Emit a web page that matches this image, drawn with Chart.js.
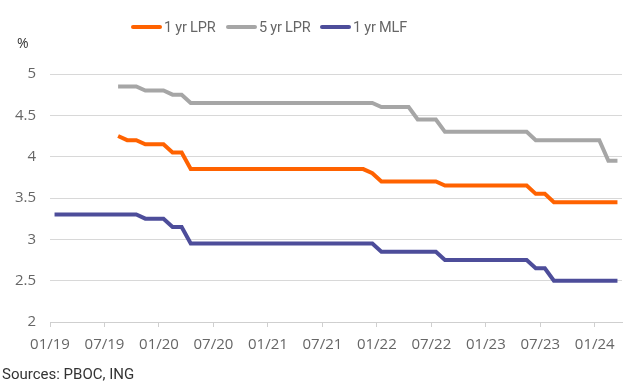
<!DOCTYPE html>
<html>
<head>
<meta charset="utf-8">
<script src="https://cdn.jsdelivr.net/npm/chart.js@4.4.1/dist/chart.umd.min.js"></script>
<style>
  html, body { margin: 0; padding: 0; background: #fff; }
  #wrap { position: relative; width: 640px; height: 384px; font-family: "Open Sans", sans-serif; }
  #legend span.item { position: absolute; top: 19px; white-space: nowrap; font-family: Roboto, sans-serif; font-size: 14.5px; letter-spacing: -0.2px; color: #666; }
  #legend span.sw { display: inline-block; width: 31px; height: 4px; border-radius: 2px; vertical-align: middle; margin-right: 2px; position: relative; top: -1px; }
  #unit { position: absolute; left: 17px; top: 33px; font-size: 14px; color: #333; }
  #source { position: absolute; left: 2px; top: 365px; font-family: Roboto, sans-serif; font-size: 15px; color: #333; }
</style>
</head>
<body>
<div id="wrap">
  <canvas id="myChart" width="640" height="384"></canvas>
  <div id="legend"></div>
  <div id="unit">%</div>
  <div id="source">Sources: PBOC, ING</div>
</div>
<script>
// months from 01/19 to 03/24
const months = [
  '01/19','02/19','03/19','04/19','05/19','06/19','07/19','08/19','09/19','10/19','11/19','12/19',
  '01/20','02/20','03/20','04/20','05/20','06/20','07/20','08/20','09/20','10/20','11/20','12/20',
  '01/21','02/21','03/21','04/21','05/21','06/21','07/21','08/21','09/21','10/21','11/21','12/21',
  '01/22','02/22','03/22','04/22','05/22','06/22','07/22','08/22','09/22','10/22','11/22','12/22',
  '01/23','02/23','03/23','04/23','05/23','06/23','07/23','08/23','09/23','10/23','11/23','12/23',
  '01/24','02/24','03/24'
];

const lpr1y = [
  null, null, null, null, null, null, null, 4.25, 4.20, 4.20, 4.15, 4.15,
  4.15, 4.05, 4.05, 3.85, 3.85, 3.85, 3.85, 3.85, 3.85, 3.85, 3.85, 3.85,
  3.85, 3.85, 3.85, 3.85, 3.85, 3.85, 3.85, 3.85, 3.85, 3.85, 3.85, 3.80,
  3.70, 3.70, 3.70, 3.70, 3.70, 3.70, 3.70, 3.65, 3.65, 3.65, 3.65, 3.65,
  3.65, 3.65, 3.65, 3.65, 3.65, 3.55, 3.55, 3.45, 3.45, 3.45, 3.45, 3.45,
  3.45, 3.45, 3.45
];

const lpr5y = [
  null, null, null, null, null, null, null, 4.85, 4.85, 4.85, 4.80, 4.80,
  4.80, 4.75, 4.75, 4.65, 4.65, 4.65, 4.65, 4.65, 4.65, 4.65, 4.65, 4.65,
  4.65, 4.65, 4.65, 4.65, 4.65, 4.65, 4.65, 4.65, 4.65, 4.65, 4.65, 4.65,
  4.60, 4.60, 4.60, 4.60, 4.45, 4.45, 4.45, 4.30, 4.30, 4.30, 4.30, 4.30,
  4.30, 4.30, 4.30, 4.30, 4.30, 4.20, 4.20, 4.20, 4.20, 4.20, 4.20, 4.20,
  4.20, 3.95, 3.95
];

const mlf1y = [
  3.30, 3.30, 3.30, 3.30, 3.30, 3.30, 3.30, 3.30, 3.30, 3.30, 3.25, 3.25,
  3.25, 3.15, 3.15, 2.95, 2.95, 2.95, 2.95, 2.95, 2.95, 2.95, 2.95, 2.95,
  2.95, 2.95, 2.95, 2.95, 2.95, 2.95, 2.95, 2.95, 2.95, 2.95, 2.95, 2.95,
  2.85, 2.85, 2.85, 2.85, 2.85, 2.85, 2.85, 2.75, 2.75, 2.75, 2.75, 2.75,
  2.75, 2.75, 2.75, 2.75, 2.75, 2.65, 2.65, 2.50, 2.50, 2.50, 2.50, 2.50,
  2.50, 2.50, 2.50
];

const yTicks = [2, 2.5, 3, 3.5, 4, 4.5, 5];
const yTickLabels = ['2', '2.5', '3', '3.5', '4', '4.5', '5'];

const series = [
  { label: '1 yr LPR', data: lpr1y, color: '#ff6200' },
  { label: '5 yr LPR', data: lpr5y, color: '#a6a6a6' },
  { label: '1 yr MLF', data: mlf1y, color: '#4d4d9a' }
];

// where each legend entry starts
const legendLeft = [131, 226, 320];

// points sit mid-month, ticks at the start of the month
function toPoints(values) {
  return values.map((v, i) => ({ x: i + 0.5, y: v }));
}

const legend = document.getElementById('legend');
series.forEach((s, i) => {
  const item = document.createElement('span');
  item.className = 'item';
  item.style.left = legendLeft[i] + 'px';
  item.innerHTML = '<span class="sw" style="background:' + s.color + '"></span>' + s.label;
  legend.appendChild(item);
});

const ctx = document.getElementById('myChart').getContext('2d');
new Chart(ctx, {
  type: 'line',
  data: {
    datasets: series.map((s) => ({
      label: s.label,
      data: toPoints(s.data),
      borderColor: s.color,
      backgroundColor: s.color,
      borderWidth: 4,
      pointRadius: 0,
      tension: 0,
      spanGaps: false
    }))
  },
  options: {
    responsive: false,
    animation: false,
    layout: { padding: { left: 0, right: 18, top: 74, bottom: 0 } },
    plugins: {
      legend: { display: false },
      tooltip: { enabled: false }
    },
    scales: {
      x: {
        type: 'linear',
        min: 0,
        max: 63,
        afterFit: (axis) => { axis.height = 62; },
        afterBuildTicks: (axis) => {
          const t = [];
          for (let i = 0; i < months.length; i += 6) t.push({ value: i });
          axis.ticks = t;
        },
        ticks: {
          autoSkip: false,
          maxRotation: 0,
          padding: 9,
          color: '#666',
          font: { family: "'Open Sans', sans-serif", size: 15 },
          callback: (value) => months[value]
        },
        grid: { drawOnChartArea: false, drawTicks: true, tickLength: 5, color: '#cfcfcf' },
        border: { display: true, color: '#cfcfcf' }
      },
      y: {
        min: 2,
        max: 5,
        afterFit: (axis) => { axis.width = 50; },
        afterBuildTicks: (axis) => {
          axis.ticks = yTicks.map((v) => ({ value: v }));
        },
        ticks: {
          padding: 14,
          color: '#666',
          font: { family: "'Open Sans', sans-serif", size: 15 },
          callback: (value) => yTickLabels[yTicks.indexOf(value)]
        },
        grid: { color: '#d8d8d8', drawTicks: false },
        border: { display: false }
      }
    }
  }
});
</script>
</body>
</html>
